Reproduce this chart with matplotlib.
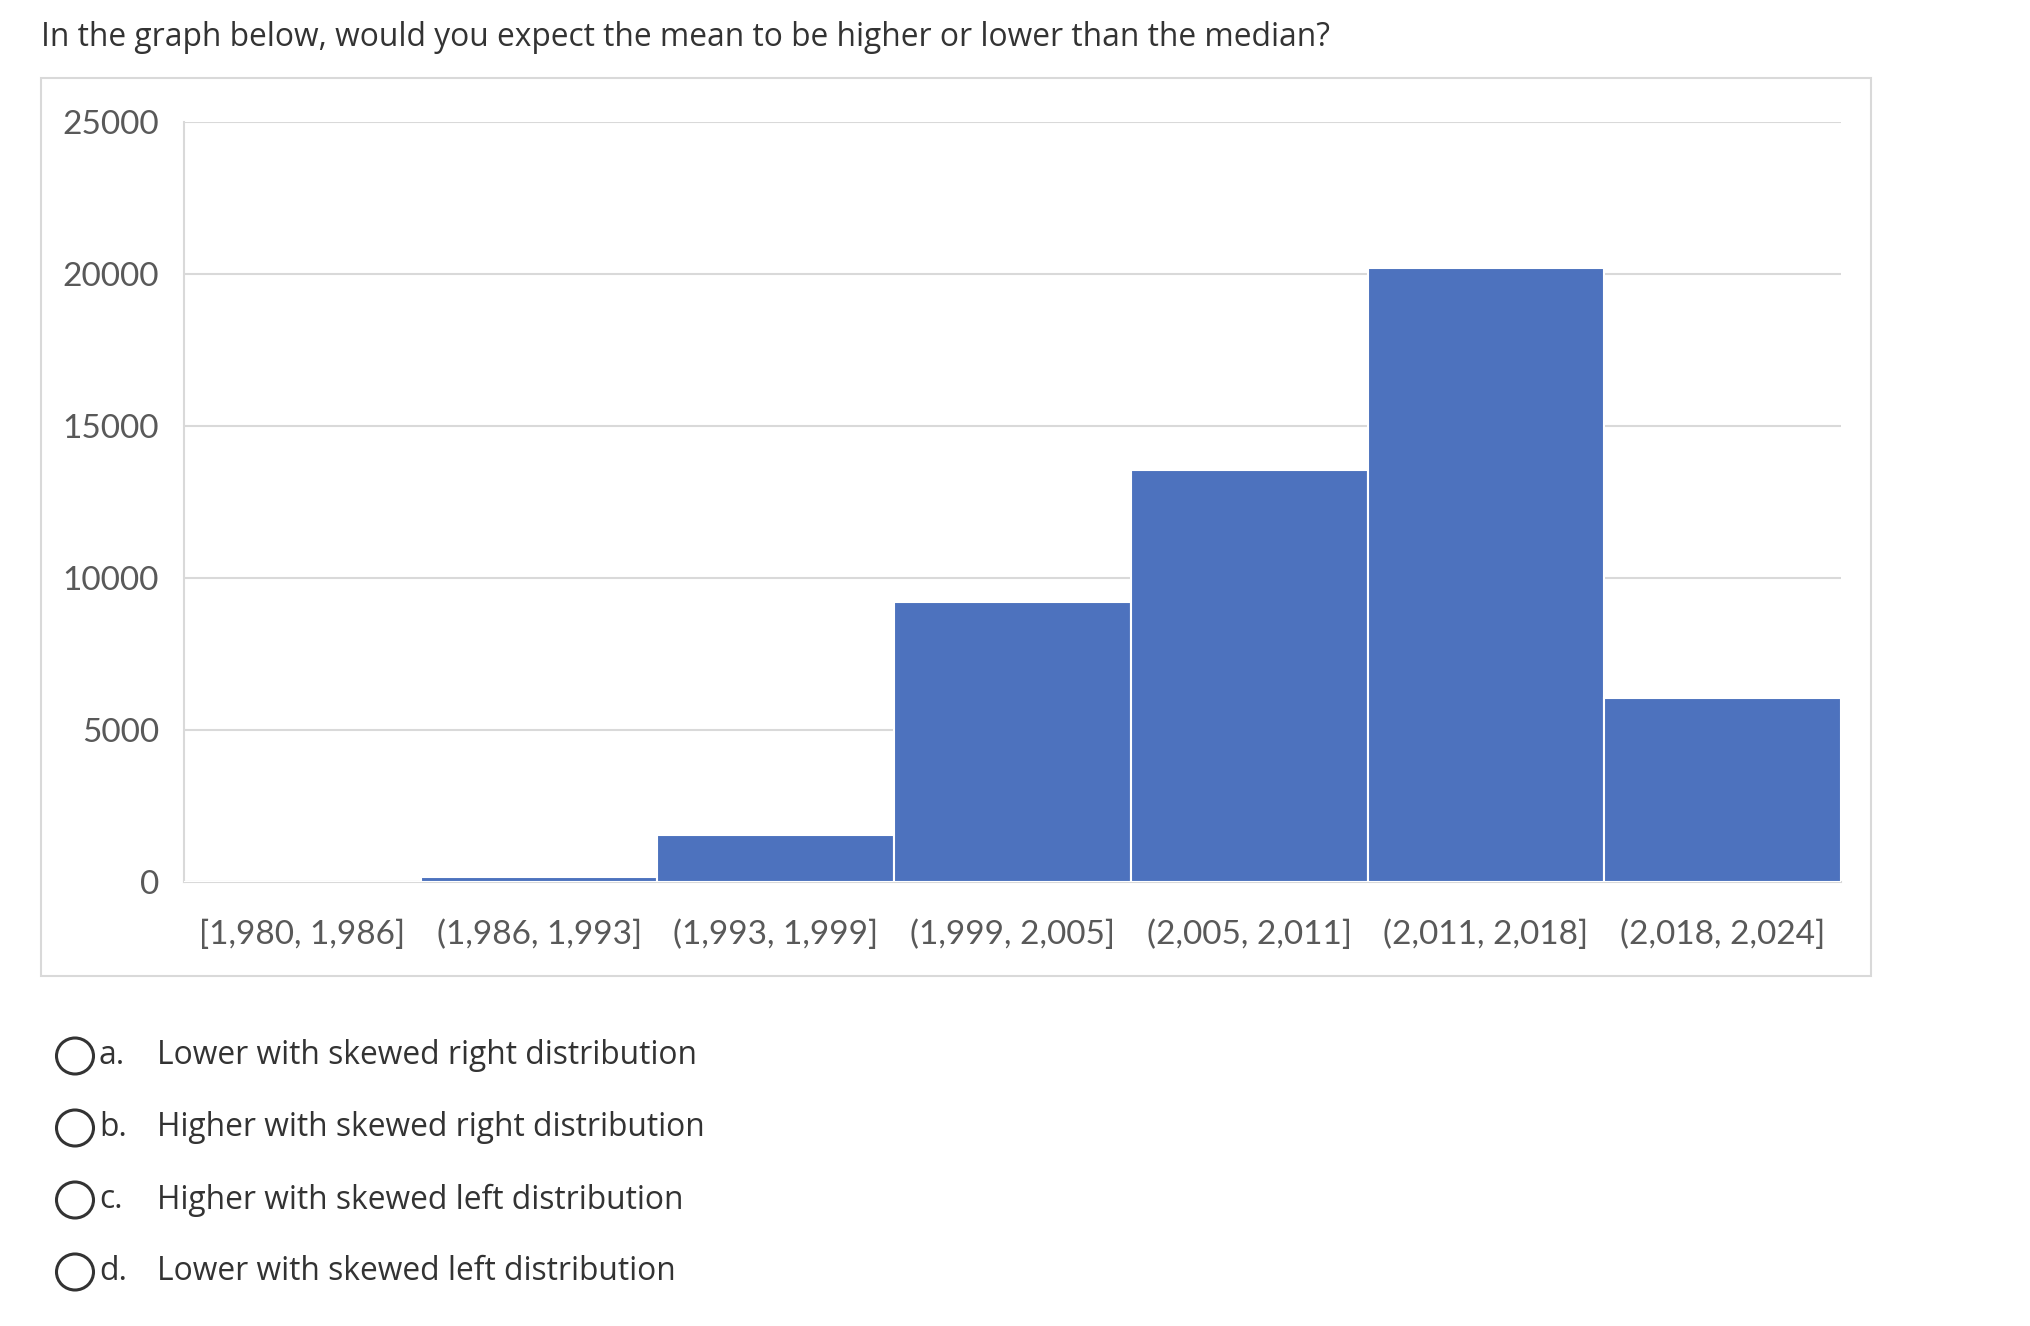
import matplotlib.pyplot as plt
from matplotlib.patches import Rectangle, Ellipse

W, H = 2030, 1326

question = "In the graph below, would you expect the mean to be higher or lower than the median?"
bins = ["[1,980, 1,986]", "(1,986, 1,993]", "(1,993, 1,999]", "(1,999, 2,005]",
        "(2,005, 2,011]", "(2,011, 2,018]", "(2,018, 2,024]"]
counts = [0, 160, 1540, 9200, 13550, 20200, 6050]
yticks = [0, 5000, 10000, 15000, 20000, 25000]
letters = ["a.", "b.", "c.", "d."]
answers = ["Lower with skewed right distribution",
           "Higher with skewed right distribution",
           "Higher with skewed left distribution",
           "Lower with skewed left distribution"]


def fx(x):
    return x / W


def fy(y):
    return 1 - y / H


fig = plt.figure(figsize=(W / 100, H / 100), dpi=100)
fig.patch.set_facecolor("white")

# question text
fig.text(fx(41), fy(38), question, fontsize=22.9, family="Open Sans",
         color="#333333", va="center", ha="left")

# chart frame
fig.add_artist(Rectangle((fx(41), fy(976)), fx(1871) - fx(41), fy(78) - fy(976),
                         transform=fig.transFigure, fill=False,
                         edgecolor="#d9d9d9", linewidth=1.5))

# plot area
ax = fig.add_axes([fx(184), fy(882), fx(1841) - fx(184), fy(122) - fy(882)])
x = range(len(bins))
ax.bar(x, counts, width=1.0, color="#4d72be", edgecolor="white",
       linewidth=1.5, zorder=3)
ax.set_xlim(-0.5, len(bins) - 0.5)
ax.set_ylim(0, 25000)
ax.set_yticks(yticks)
ax.set_yticklabels([str(v) for v in yticks])
ax.set_xticks(list(x))
ax.set_xticklabels(bins)
ax.grid(axis="y", color="#d9d9d9", linewidth=1.5, zorder=0)
ax.set_axisbelow(True)
for s in ["top", "right"]:
    ax.spines[s].set_visible(False)
ax.spines["left"].set_color("#d9d9d9")
ax.spines["left"].set_linewidth(1.5)
ax.spines["bottom"].set_color("#d9d9d9")
ax.spines["bottom"].set_linewidth(1.5)
ax.tick_params(length=0, labelsize=24, labelcolor="#595959")
ax.tick_params(axis="y", pad=18)
ax.tick_params(axis="x", pad=27)
for lab in ax.get_xticklabels() + ax.get_yticklabels():
    lab.set_family("Lato")

# answer options
opt_y = [1056, 1128, 1200, 1272]
for yy, let, txt in zip(opt_y, letters, answers):
    fig.add_artist(Ellipse((fx(75), fy(yy)), 37 / W, 36 / H,
                           transform=fig.transFigure, fill=False,
                           edgecolor="#333333", linewidth=2.2))
    fig.text(fx(99), fy(yy), let, fontsize=22.9, family="Open Sans",
             color="#333333", va="center", ha="left")
    fig.text(fx(157), fy(yy), txt, fontsize=22.9, family="Open Sans",
             color="#333333", va="center", ha="left")

fig.savefig("out.png", dpi=100)
